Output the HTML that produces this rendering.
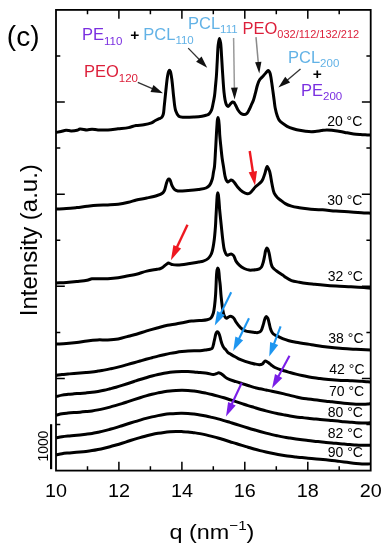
<!DOCTYPE html>
<html><head><meta charset="utf-8"><style>
html,body{margin:0;padding:0;background:#fff;width:386px;height:550px;overflow:hidden}
svg{display:block}
text{font-family:"Liberation Sans",Arial,sans-serif}
</style></head><body>
<svg width="386" height="550" viewBox="0 0 386 550">

<rect x="56.0" y="9.9" width="314.7" height="460.7" fill="none" stroke="#000" stroke-width="1.8"/>
<path d="M87.5,470.6V466.3M87.5,9.9V14.2M118.9,470.6V461.8M118.9,9.9V18.7M150.4,470.6V466.3M150.4,9.9V14.2M181.9,470.6V461.8M181.9,9.9V18.7M213.3,470.6V466.3M213.3,9.9V14.2M244.8,470.6V461.8M244.8,9.9V18.7M276.3,470.6V466.3M276.3,9.9V14.2M307.8,470.6V461.8M307.8,9.9V18.7M339.2,470.6V466.3M339.2,9.9V14.2M56.0,56.0H60.3M370.7,56.0H366.4M56.0,102.0H64.8M370.7,102.0H361.9M56.0,148.1H60.3M370.7,148.1H366.4M56.0,194.2H64.8M370.7,194.2H361.9M56.0,240.2H60.3M370.7,240.2H366.4M56.0,286.3H64.8M370.7,286.3H361.9M56.0,332.4H60.3M370.7,332.4H366.4M56.0,378.5H64.8M370.7,378.5H361.9M56.0,424.5H60.3M370.7,424.5H366.4" stroke="#000" stroke-width="1.5" fill="none"/>
<path d="M56.00,132.40C57.67,132.10 59.34,131.85 61.00,131.50C62.67,131.15 64.32,130.40 66.00,130.30C67.66,130.20 69.26,130.88 71.00,130.90C72.91,130.92 75.37,130.72 77.00,130.30C78.20,129.99 78.76,129.18 80.00,129.00C81.82,128.74 84.86,129.91 87.00,129.90C88.81,129.89 90.26,129.22 92.00,129.20C93.91,129.18 95.74,129.77 98.00,129.90C100.91,130.07 104.67,130.08 108.00,129.90C111.34,129.72 114.63,129.18 118.00,128.80C121.46,128.41 125.32,128.22 128.50,127.60C131.23,127.06 133.45,125.97 136.00,125.50C138.55,125.03 141.23,125.25 143.80,124.80C146.39,124.35 149.41,123.67 151.50,122.80C153.07,122.15 154.08,121.19 155.40,120.50C156.68,119.83 158.18,119.25 159.30,118.70C160.17,118.27 160.97,118.12 161.60,117.50C162.32,116.79 162.78,115.82 163.20,114.50C163.88,112.36 163.92,108.93 164.30,105.60C164.78,101.36 165.27,95.93 165.80,91.10C166.33,86.26 166.90,80.19 167.50,76.60C167.86,74.46 168.12,72.61 168.60,71.50C168.87,70.89 169.20,70.20 169.50,70.20C169.80,70.20 170.12,70.83 170.40,71.50C171.07,73.14 171.51,77.17 172.00,80.70C172.65,85.41 173.04,92.06 173.70,97.30C174.29,102.04 174.53,107.37 175.70,110.80C176.50,113.13 177.32,115.23 178.80,116.30C180.16,117.28 181.96,117.14 184.00,117.30C186.86,117.53 191.21,117.21 194.40,117.00C197.14,116.82 199.88,116.55 202.00,116.20C203.55,115.94 204.78,115.70 206.00,115.30C207.09,114.94 208.13,114.73 209.00,114.00C210.02,113.14 210.85,111.69 211.50,110.20C212.26,108.44 212.53,106.20 213.00,104.00C213.53,101.51 214.09,98.82 214.50,96.00C214.95,92.86 215.18,89.33 215.50,86.00C215.82,82.67 216.13,79.62 216.40,76.00C216.71,71.73 216.92,66.89 217.20,62.00C217.51,56.61 217.68,49.34 218.20,45.00C218.53,42.28 218.96,38.42 219.40,38.40C219.77,38.39 220.28,41.09 220.60,43.00C221.11,46.04 221.21,50.78 221.50,55.00C221.82,59.72 222.10,65.28 222.40,70.00C222.67,74.22 222.92,78.18 223.20,82.00C223.46,85.49 223.67,88.91 224.00,92.00C224.29,94.68 224.56,97.26 225.00,99.50C225.36,101.35 225.66,103.26 226.30,104.50C226.76,105.38 227.40,106.48 228.00,106.50C228.63,106.53 229.30,105.20 230.00,104.50C230.79,103.71 231.74,102.25 232.50,102.00C232.96,101.85 233.40,101.93 233.80,102.20C234.44,102.63 234.90,103.92 235.50,105.00C236.28,106.41 237.03,108.53 238.00,110.00C238.88,111.33 239.89,112.73 241.00,113.50C241.92,114.14 243.01,114.63 244.00,114.60C245.01,114.57 246.15,114.06 247.00,113.30C248.05,112.36 248.75,110.47 249.50,109.00C250.25,107.54 250.83,106.00 251.50,104.50C252.17,103.00 252.90,101.68 253.50,100.00C254.23,97.97 254.77,95.47 255.40,93.10C256.07,90.58 256.75,87.46 257.40,85.30C257.87,83.73 258.28,82.41 258.80,81.30C259.20,80.43 259.61,79.74 260.10,79.10C260.55,78.52 261.09,78.11 261.60,77.60C262.12,77.08 262.61,76.63 263.20,76.00C264.00,75.15 265.17,73.77 265.90,72.90C266.42,72.28 266.75,71.70 267.20,71.30C267.56,70.98 267.95,70.57 268.30,70.60C268.65,70.63 269.01,71.09 269.30,71.50C269.68,72.04 269.93,72.79 270.20,73.70C270.60,75.07 270.89,77.15 271.20,79.00C271.53,81.01 271.79,83.13 272.10,85.30C272.43,87.62 272.77,90.08 273.10,92.50C273.44,94.97 273.76,97.46 274.10,100.00C274.46,102.62 274.67,105.35 275.20,108.00C275.73,110.68 276.54,113.85 277.30,116.00C277.84,117.53 278.20,118.64 279.00,119.80C279.86,121.05 281.12,122.15 282.40,123.20C283.79,124.33 285.37,125.41 287.10,126.30C288.98,127.27 291.09,128.02 293.30,128.70C295.73,129.45 298.49,130.02 301.10,130.50C303.69,130.98 306.44,131.45 308.90,131.60C311.08,131.74 313.04,131.67 315.10,131.50C317.17,131.33 319.30,130.87 321.30,130.60C323.16,130.34 324.79,129.94 326.70,129.90C328.83,129.86 331.24,130.25 333.50,130.50C335.74,130.75 337.97,131.02 340.20,131.40C342.46,131.78 344.74,132.38 347.00,132.80C349.24,133.21 351.46,133.62 353.70,133.90C355.93,134.18 358.16,134.33 360.40,134.50C362.66,134.67 365.31,134.79 367.20,134.90C368.56,134.98 369.53,135.03 370.70,135.10" stroke="#000" stroke-width="3" fill="none" stroke-linejoin="round" stroke-linecap="butt"/>
<path d="M56.00,209.00C59.47,208.87 62.95,208.83 66.40,208.60C69.85,208.37 73.26,207.98 76.70,207.60C80.16,207.22 83.63,206.68 87.10,206.30C90.56,205.92 94.04,205.53 97.50,205.30C100.94,205.07 104.36,205.08 107.80,204.90C111.26,204.72 114.76,204.65 118.20,204.20C121.66,203.75 125.31,202.95 128.50,202.20C131.32,201.53 133.58,200.67 136.40,200.00C139.59,199.25 143.27,198.75 146.70,198.00C150.17,197.25 154.26,196.46 157.10,195.50C159.17,194.80 161.05,194.16 162.30,193.20C163.24,192.48 163.72,191.82 164.30,190.70C165.19,188.98 165.73,185.49 166.40,183.50C166.88,182.05 167.23,180.54 167.80,179.80C168.13,179.36 168.53,179.00 168.90,179.00C169.27,179.00 169.65,179.33 170.00,179.80C170.74,180.79 171.16,183.79 172.00,185.50C172.76,187.06 173.60,188.80 174.70,189.70C175.60,190.43 176.43,190.67 177.80,190.90C180.22,191.30 184.75,190.73 188.20,190.50C191.65,190.27 195.35,189.97 198.50,189.50C201.21,189.10 204.03,188.88 206.00,188.00C207.51,187.32 208.61,186.56 209.60,185.30C210.82,183.75 211.65,181.20 212.30,179.00C212.96,176.77 213.12,174.10 213.50,172.00C213.81,170.28 214.14,169.35 214.40,167.30C214.89,163.50 215.17,156.37 215.50,150.90C215.83,145.43 216.21,137.95 216.40,134.50C216.49,132.90 216.52,132.32 216.60,131.00C216.71,129.27 216.86,126.91 217.00,125.00C217.13,123.26 217.18,121.37 217.40,120.00C217.56,119.02 217.79,117.51 218.00,117.50C218.19,117.49 218.44,118.69 218.60,119.50C218.84,120.69 218.96,122.39 219.10,124.00C219.26,125.85 219.40,128.14 219.50,130.00C219.59,131.61 219.57,132.60 219.70,134.50C219.93,137.80 220.57,143.84 221.00,148.00C221.37,151.58 221.65,154.67 222.10,158.00C222.55,161.34 223.19,164.85 223.70,168.00C224.15,170.82 224.49,173.80 225.00,176.00C225.36,177.58 225.64,178.94 226.20,180.00C226.64,180.83 227.21,181.89 227.80,182.00C228.32,182.10 228.94,181.34 229.50,181.00C230.04,180.67 230.57,180.06 231.10,180.00C231.57,179.95 232.03,180.20 232.50,180.50C233.13,180.91 233.71,181.68 234.40,182.50C235.36,183.66 236.34,185.45 237.60,186.90C239.02,188.55 240.85,190.62 242.60,191.80C244.08,192.79 245.84,193.71 247.20,193.80C248.23,193.87 249.01,193.62 250.00,193.00C251.67,191.95 253.54,188.76 255.50,186.80C257.47,184.82 260.23,183.44 261.80,181.20C263.36,178.97 263.98,175.94 264.90,173.40C265.76,171.02 266.36,166.46 267.20,166.40C267.91,166.35 268.83,169.11 269.50,171.10C270.54,174.20 271.07,179.63 271.90,183.50C272.64,186.94 273.06,190.70 274.20,193.20C275.03,195.02 276.15,196.30 277.30,197.50C278.34,198.59 279.47,199.26 280.70,200.20C282.11,201.28 283.58,202.64 285.30,203.60C287.15,204.64 289.28,205.43 291.50,206.10C293.92,206.83 296.69,207.25 299.30,207.70C301.89,208.15 304.50,208.50 307.10,208.80C309.70,209.10 312.31,209.33 314.90,209.50C317.47,209.67 319.68,209.60 322.60,209.80C326.46,210.06 331.40,210.75 336.00,211.10C340.86,211.46 346.18,211.59 351.00,211.90C355.49,212.19 360.38,212.68 364.00,212.90C366.60,213.06 368.47,213.10 370.70,213.20" stroke="#000" stroke-width="3" fill="none" stroke-linejoin="round" stroke-linecap="butt"/>
<path d="M56.00,283.00C59.47,282.80 62.94,282.65 66.40,282.40C69.84,282.15 73.26,281.85 76.70,281.50C80.16,281.15 84.30,280.89 87.10,280.30C89.06,279.89 90.30,279.05 92.00,278.80C93.76,278.54 95.38,278.80 97.50,278.80C100.40,278.80 104.36,278.96 107.80,278.80C111.26,278.63 114.76,278.32 118.20,277.80C121.66,277.28 125.29,276.33 128.50,275.70C131.31,275.15 133.61,274.88 136.40,274.20C139.63,273.41 143.23,271.92 146.70,271.10C150.13,270.29 154.71,269.75 157.10,269.30C158.37,269.06 159.08,268.99 160.00,268.70C160.88,268.42 161.75,268.09 162.50,267.60C163.25,267.12 163.82,266.37 164.50,265.80C165.16,265.24 165.82,264.67 166.50,264.20C167.15,263.75 167.82,263.05 168.50,263.00C169.15,262.95 169.82,263.54 170.50,263.80C171.19,264.07 171.73,264.40 172.60,264.60C173.93,264.90 175.77,265.04 177.80,265.00C180.67,264.95 184.75,264.30 188.20,263.80C191.65,263.30 195.72,262.50 198.50,262.00C200.40,261.66 201.73,261.65 203.30,261.10C204.97,260.52 206.85,259.73 208.20,258.50C209.60,257.22 210.62,255.60 211.50,253.50C212.72,250.60 213.26,246.41 213.90,242.30C214.67,237.37 215.17,230.38 215.50,225.90C215.73,222.79 215.76,220.72 215.90,218.00C216.05,215.10 216.23,212.00 216.40,209.00C216.57,206.00 216.73,202.56 216.90,200.00C217.03,198.09 217.10,196.32 217.30,195.00C217.44,194.11 217.62,192.81 217.80,192.80C217.96,192.80 218.16,193.79 218.30,194.50C218.53,195.63 218.64,197.39 218.80,199.00C218.98,200.86 219.16,203.14 219.30,205.00C219.42,206.61 219.60,209.50 219.60,209.50C219.60,209.50 219.60,209.50 219.60,209.50C219.60,209.50 220.74,220.58 221.30,225.90C221.83,230.93 222.30,236.19 222.90,240.60C223.39,244.23 223.61,247.87 224.50,250.50C225.15,252.42 226.02,254.79 227.00,255.20C227.61,255.45 228.33,254.81 229.00,254.60C229.69,254.38 230.39,253.80 231.10,253.90C231.93,254.01 232.88,254.73 233.60,255.60C234.62,256.83 235.01,259.46 236.00,261.10C236.93,262.64 237.99,263.99 239.30,265.20C240.69,266.48 242.51,267.67 244.20,268.50C245.78,269.27 247.54,269.87 249.10,270.10C250.46,270.30 251.55,270.15 253.00,270.00C254.88,269.80 257.91,269.52 259.40,268.80C260.37,268.33 260.91,267.85 261.50,267.00C262.32,265.82 262.79,263.76 263.30,262.00C263.84,260.11 264.21,257.93 264.60,256.00C264.97,254.21 265.16,252.25 265.60,250.80C265.94,249.70 266.34,248.06 266.80,248.00C267.16,247.95 267.65,248.84 268.00,249.50C268.51,250.48 268.85,252.05 269.20,253.50C269.60,255.18 269.86,257.21 270.20,259.00C270.53,260.71 270.77,262.52 271.20,264.00C271.56,265.23 271.94,266.42 272.50,267.30C272.95,268.01 273.46,268.41 274.10,269.00C274.90,269.74 275.96,270.55 277.00,271.30C278.14,272.12 279.66,273.02 280.70,273.70C281.47,274.20 281.96,274.47 282.70,275.00C283.68,275.70 284.72,276.75 286.00,277.60C287.56,278.63 289.44,279.85 291.50,280.60C293.82,281.45 296.69,281.73 299.30,282.20C301.89,282.67 304.50,283.07 307.10,283.40C309.70,283.73 312.31,283.93 314.90,284.20C317.48,284.47 319.68,284.73 322.60,285.00C326.45,285.36 331.40,285.80 336.00,286.10C340.86,286.41 346.18,286.54 351.00,286.80C355.49,287.04 360.38,287.33 364.00,287.60C366.60,287.80 368.47,288.00 370.70,288.20" stroke="#000" stroke-width="3" fill="none" stroke-linejoin="round" stroke-linecap="butt"/>
<path d="M56.00,344.00C59.47,343.87 62.95,343.83 66.40,343.60C69.85,343.37 73.27,343.05 76.70,342.60C80.17,342.15 83.63,341.35 87.10,340.90C90.56,340.45 94.04,340.07 97.50,339.90C100.94,339.74 104.36,340.06 107.80,339.90C111.26,339.73 114.77,339.51 118.20,338.90C121.67,338.28 125.29,337.03 128.50,336.20C131.31,335.48 133.61,335.00 136.40,334.20C139.62,333.28 143.25,331.93 146.70,330.90C150.15,329.87 153.63,328.93 157.10,328.00C160.56,327.07 164.19,325.98 167.50,325.30C170.46,324.69 173.23,324.48 176.00,324.00C178.66,323.54 181.21,322.99 183.80,322.50C186.37,322.02 188.92,321.42 191.50,321.10C194.08,320.78 196.70,320.82 199.30,320.60C201.90,320.38 204.98,320.38 207.10,319.80C208.67,319.37 209.99,318.99 211.00,318.00C212.12,316.91 212.72,315.11 213.30,313.30C214.01,311.07 214.24,308.32 214.60,305.50C215.03,302.20 215.34,298.45 215.60,294.70C215.88,290.64 216.02,285.75 216.20,282.00C216.34,279.03 216.41,276.24 216.60,274.00C216.74,272.37 216.83,270.89 217.10,269.80C217.28,269.06 217.56,268.01 217.80,268.00C218.03,267.99 218.32,268.88 218.50,269.50C218.77,270.41 218.85,271.67 219.00,273.00C219.20,274.73 219.30,277.00 219.50,279.00C219.70,281.00 219.97,282.69 220.20,285.00C220.51,288.15 220.72,292.37 221.10,296.20C221.51,300.26 221.98,305.16 222.60,308.70C223.07,311.35 223.34,313.92 224.20,315.60C224.80,316.77 225.71,318.08 226.50,318.20C227.15,318.30 227.83,317.34 228.50,317.00C229.13,316.68 229.75,316.21 230.40,316.20C231.08,316.19 231.87,316.59 232.50,317.00C233.17,317.44 233.76,318.07 234.30,318.80C234.95,319.68 235.22,320.82 236.00,322.00C237.12,323.70 239.01,326.28 240.70,327.80C242.15,329.10 243.58,330.12 245.30,330.80C247.15,331.53 249.42,331.60 251.50,331.90C253.59,332.20 256.10,332.89 257.80,332.60C259.05,332.39 260.07,332.02 260.90,331.10C262.05,329.83 262.52,327.00 263.20,324.90C263.88,322.80 264.32,320.00 265.00,318.50C265.41,317.60 265.83,316.53 266.30,316.50C266.76,316.47 267.38,317.48 267.80,318.30C268.44,319.54 268.75,321.76 269.20,323.50C269.65,325.26 269.98,327.23 270.50,328.80C270.94,330.11 271.41,331.34 272.00,332.30C272.48,333.07 272.93,333.66 273.60,334.20C274.36,334.81 275.27,335.14 276.40,335.70C278.05,336.53 280.50,337.76 282.60,338.60C284.67,339.43 286.72,340.09 288.90,340.70C291.18,341.34 293.17,341.76 296.00,342.30C300.16,343.09 306.32,343.92 311.50,344.70C316.69,345.48 321.90,346.37 327.10,347.00C332.27,347.63 337.62,348.11 342.60,348.50C347.23,348.86 351.43,349.05 356.00,349.30C360.79,349.56 365.80,349.77 370.70,350.00" stroke="#000" stroke-width="3" fill="none" stroke-linejoin="round" stroke-linecap="butt"/>
<path d="M56.00,375.40C58.00,375.10 60.00,374.73 62.00,374.50C64.00,374.27 66.00,374.17 68.00,374.00C70.00,373.83 72.00,373.65 74.00,373.50C76.00,373.35 78.00,373.25 80.00,373.10C82.00,372.95 84.00,372.78 86.00,372.60C88.00,372.42 90.00,372.25 92.00,372.00C94.00,371.75 96.00,371.42 98.00,371.10C100.00,370.78 102.00,370.47 104.00,370.10C106.00,369.73 108.00,369.32 110.00,368.90C112.00,368.48 114.00,368.07 116.00,367.60C118.00,367.13 120.00,366.63 122.00,366.10C124.00,365.57 126.00,364.97 128.00,364.40C130.00,363.83 132.00,363.27 134.00,362.70C136.00,362.13 138.00,361.57 140.00,361.00C142.00,360.43 144.00,359.85 146.00,359.30C148.00,358.75 150.00,358.23 152.00,357.70C154.00,357.17 156.00,356.60 158.00,356.10C160.00,355.60 162.00,355.15 164.00,354.70C166.00,354.25 168.00,353.78 170.00,353.40C172.00,353.02 174.00,352.70 176.00,352.40C178.00,352.10 180.00,351.83 182.00,351.60C184.00,351.37 186.00,351.15 188.00,351.00C190.00,350.85 192.00,350.75 194.00,350.70C196.00,350.65 198.00,350.83 200.00,350.70C202.00,350.57 204.20,350.18 206.00,349.90C207.47,349.67 208.88,349.55 210.00,349.20C210.86,348.93 211.66,348.78 212.20,348.20C212.82,347.53 212.99,346.26 213.30,345.20C213.64,344.04 213.82,342.76 214.10,341.50C214.39,340.19 214.73,338.72 215.00,337.50C215.22,336.48 215.34,335.58 215.60,334.70C215.84,333.89 216.11,332.89 216.50,332.40C216.76,332.08 217.10,331.80 217.40,331.80C217.70,331.80 218.02,332.08 218.30,332.40C218.72,332.89 219.08,333.85 219.40,334.70C219.77,335.69 220.00,336.88 220.30,338.00C220.60,339.15 220.87,340.38 221.20,341.50C221.51,342.54 221.85,343.61 222.20,344.50C222.49,345.24 222.73,345.85 223.10,346.50C223.49,347.19 224.01,347.91 224.50,348.50C224.94,349.03 225.40,349.34 225.90,349.90C226.55,350.64 227.24,351.93 228.00,352.60C228.63,353.16 229.27,353.36 230.00,353.80C230.90,354.34 231.99,355.03 233.00,355.60C233.99,356.16 234.93,356.62 236.00,357.20C237.24,357.87 238.28,358.65 240.00,359.40C242.80,360.62 248.01,362.29 251.50,363.20C254.33,363.94 257.29,364.73 259.30,364.70C260.57,364.68 261.60,364.50 262.40,364.00C263.12,363.55 263.44,362.54 264.00,362.00C264.48,361.54 264.99,360.94 265.50,360.90C265.99,360.87 266.50,361.40 267.00,361.70C267.53,362.02 268.00,362.35 268.60,362.80C269.44,363.43 270.48,364.43 271.50,365.20C272.57,366.00 273.43,366.75 274.90,367.50C277.15,368.65 281.27,369.92 284.00,370.80C286.19,371.51 288.00,371.95 290.00,372.50C292.00,373.05 294.00,373.60 296.00,374.10C298.00,374.60 300.00,375.07 302.00,375.50C304.00,375.93 306.00,376.32 308.00,376.70C310.00,377.08 312.00,377.48 314.00,377.80C316.00,378.12 318.00,378.35 320.00,378.60C322.00,378.85 324.00,379.10 326.00,379.30C328.00,379.50 330.00,379.65 332.00,379.80C334.00,379.95 336.00,380.08 338.00,380.20C340.00,380.32 342.00,380.42 344.00,380.50C346.00,380.58 348.00,380.63 350.00,380.70C352.00,380.77 354.00,380.80 356.00,380.90C358.00,381.00 360.00,381.17 362.00,381.30C364.00,381.43 366.40,381.56 368.00,381.70C369.08,381.80 369.80,381.90 370.70,382.00" stroke="#000" stroke-width="3" fill="none" stroke-linejoin="round" stroke-linecap="butt"/>
<path d="M56.00,396.70C58.00,396.17 59.99,395.50 62.00,395.10C63.99,394.70 66.00,394.52 68.00,394.30C70.00,394.08 72.00,393.95 74.00,393.80C76.00,393.65 78.00,393.55 80.00,393.40C82.00,393.25 84.00,393.08 86.00,392.90C88.00,392.72 90.00,392.55 92.00,392.30C94.00,392.05 96.00,391.73 98.00,391.40C100.00,391.07 102.01,390.73 104.00,390.30C106.01,389.87 108.00,389.32 110.00,388.80C112.00,388.28 114.00,387.77 116.00,387.20C118.00,386.63 120.00,386.02 122.00,385.40C124.00,384.78 126.00,384.15 128.00,383.50C130.00,382.85 132.00,382.17 134.00,381.50C136.00,380.83 138.00,380.13 140.00,379.50C142.00,378.87 144.00,378.28 146.00,377.70C148.00,377.12 150.00,376.53 152.00,376.00C154.00,375.47 155.99,374.95 158.00,374.50C159.99,374.05 162.00,373.67 164.00,373.30C166.00,372.93 168.00,372.57 170.00,372.30C172.00,372.03 174.00,371.85 176.00,371.70C178.00,371.55 180.00,371.43 182.00,371.40C184.00,371.37 186.00,371.42 188.00,371.50C190.00,371.58 192.00,371.72 194.00,371.90C196.00,372.08 197.91,372.39 200.00,372.60C202.27,372.83 204.83,372.85 207.10,373.20C209.25,373.53 211.58,374.64 213.30,374.60C214.55,374.57 215.54,374.03 216.50,373.70C217.31,373.42 218.00,372.82 218.70,372.80C219.33,372.78 219.90,373.10 220.50,373.40C221.20,373.74 221.77,374.20 222.60,374.80C223.87,375.72 225.39,377.43 227.30,378.50C229.67,379.83 233.36,380.80 236.00,381.70C238.18,382.44 240.00,382.97 242.00,383.60C244.00,384.23 246.00,384.87 248.00,385.50C250.00,386.13 251.99,386.85 254.00,387.40C255.99,387.95 258.00,388.37 260.00,388.80C262.00,389.23 264.00,389.60 266.00,390.00C268.00,390.40 270.00,390.78 272.00,391.20C274.00,391.62 276.00,392.05 278.00,392.50C280.00,392.95 282.00,393.42 284.00,393.90C286.00,394.38 288.00,394.90 290.00,395.40C292.00,395.90 294.00,396.43 296.00,396.90C298.00,397.37 299.99,397.85 302.00,398.20C303.99,398.55 306.00,398.75 308.00,399.00C310.00,399.25 312.00,399.45 314.00,399.70C316.00,399.95 318.00,400.25 320.00,400.50C322.00,400.75 324.00,400.98 326.00,401.20C328.00,401.42 330.00,401.58 332.00,401.80C334.00,402.02 336.00,402.27 338.00,402.50C340.00,402.73 342.00,402.98 344.00,403.20C346.00,403.42 348.00,403.63 350.00,403.80C352.00,403.97 354.00,404.12 356.00,404.20C358.00,404.28 360.00,404.33 362.00,404.30C364.00,404.27 366.40,404.16 368.00,404.00C369.08,403.89 369.80,403.73 370.70,403.60" stroke="#000" stroke-width="3" fill="none" stroke-linejoin="round" stroke-linecap="butt"/>
<path d="M56.00,415.20C58.00,414.73 59.99,414.15 62.00,413.80C63.99,413.45 66.00,413.30 68.00,413.10C70.00,412.90 72.00,412.75 74.00,412.60C76.00,412.45 78.00,412.37 80.00,412.20C82.00,412.03 84.00,411.82 86.00,411.60C88.00,411.38 90.00,411.18 92.00,410.90C94.00,410.62 96.00,410.28 98.00,409.90C100.00,409.52 102.00,409.07 104.00,408.60C106.00,408.13 108.00,407.63 110.00,407.10C112.00,406.57 114.00,405.98 116.00,405.40C118.00,404.82 120.00,404.23 122.00,403.60C124.00,402.97 126.00,402.27 128.00,401.60C130.00,400.93 132.00,400.25 134.00,399.60C136.00,398.95 138.00,398.32 140.00,397.70C142.00,397.08 144.00,396.47 146.00,395.90C148.00,395.33 150.00,394.80 152.00,394.30C154.00,393.80 156.00,393.33 158.00,392.90C160.00,392.47 161.99,392.03 164.00,391.70C165.99,391.37 168.00,391.10 170.00,390.90C172.00,390.70 174.00,390.60 176.00,390.50C178.00,390.40 180.00,390.30 182.00,390.30C184.00,390.30 186.00,390.37 188.00,390.50C190.00,390.63 192.00,390.87 194.00,391.10C196.00,391.33 198.01,391.57 200.00,391.90C202.01,392.23 204.00,392.67 206.00,393.10C208.00,393.53 210.00,394.00 212.00,394.50C214.00,395.00 216.00,395.55 218.00,396.10C220.00,396.65 222.00,397.20 224.00,397.80C226.00,398.40 228.00,399.07 230.00,399.70C232.00,400.33 234.00,400.95 236.00,401.60C238.00,402.25 240.00,402.93 242.00,403.60C244.00,404.27 246.00,404.97 248.00,405.60C250.00,406.23 252.00,406.80 254.00,407.40C256.00,408.00 258.00,408.62 260.00,409.20C262.00,409.78 264.00,410.37 266.00,410.90C268.00,411.43 270.00,411.93 272.00,412.40C274.00,412.87 276.00,413.28 278.00,413.70C280.00,414.12 282.00,414.52 284.00,414.90C286.00,415.28 288.00,415.67 290.00,416.00C292.00,416.33 294.00,416.63 296.00,416.90C298.00,417.17 300.00,417.37 302.00,417.60C304.00,417.83 306.00,418.08 308.00,418.30C310.00,418.52 312.00,418.70 314.00,418.90C316.00,419.10 318.00,419.32 320.00,419.50C322.00,419.68 324.00,419.82 326.00,420.00C328.00,420.18 330.00,420.42 332.00,420.60C334.00,420.78 336.00,420.92 338.00,421.10C340.00,421.28 342.00,421.52 344.00,421.70C346.00,421.88 348.00,422.03 350.00,422.20C352.00,422.37 354.00,422.58 356.00,422.70C358.00,422.82 360.00,422.87 362.00,422.90C364.00,422.93 366.39,422.96 368.00,422.90C369.08,422.86 369.80,422.77 370.70,422.70" stroke="#000" stroke-width="3" fill="none" stroke-linejoin="round" stroke-linecap="butt"/>
<path d="M56.00,437.80C58.00,437.43 60.00,437.00 62.00,436.70C64.00,436.40 66.00,436.20 68.00,436.00C70.00,435.80 72.00,435.68 74.00,435.50C76.00,435.32 78.00,435.12 80.00,434.90C82.00,434.68 84.00,434.45 86.00,434.20C88.00,433.95 90.01,433.73 92.00,433.40C94.01,433.07 96.00,432.62 98.00,432.20C100.00,431.78 102.01,431.38 104.00,430.90C106.01,430.42 108.00,429.85 110.00,429.30C112.00,428.75 114.00,428.20 116.00,427.60C118.00,427.00 120.00,426.33 122.00,425.70C124.00,425.07 126.00,424.43 128.00,423.80C130.00,423.17 132.00,422.52 134.00,421.90C136.00,421.28 138.00,420.68 140.00,420.10C142.00,419.52 144.00,418.93 146.00,418.40C148.00,417.87 150.00,417.37 152.00,416.90C154.00,416.43 156.00,416.00 158.00,415.60C160.00,415.20 162.00,414.80 164.00,414.50C166.00,414.20 168.00,413.98 170.00,413.80C172.00,413.62 174.00,413.48 176.00,413.40C178.00,413.32 180.00,413.28 182.00,413.30C184.00,413.32 186.00,413.37 188.00,413.50C190.00,413.63 192.00,413.87 194.00,414.10C196.00,414.33 198.00,414.58 200.00,414.90C202.00,415.22 204.00,415.58 206.00,416.00C208.01,416.42 210.00,416.92 212.00,417.40C214.00,417.88 216.00,418.37 218.00,418.90C220.00,419.43 222.00,420.02 224.00,420.60C226.00,421.18 228.00,421.80 230.00,422.40C232.00,423.00 234.00,423.58 236.00,424.20C238.00,424.82 240.00,425.47 242.00,426.10C244.00,426.73 246.00,427.38 248.00,428.00C250.00,428.62 252.00,429.22 254.00,429.80C256.00,430.38 258.00,430.95 260.00,431.50C262.00,432.05 264.00,432.58 266.00,433.10C268.00,433.62 270.00,434.13 272.00,434.60C274.00,435.07 276.00,435.48 278.00,435.90C280.00,436.32 282.00,436.73 284.00,437.10C286.00,437.47 288.00,437.78 290.00,438.10C292.00,438.42 294.00,438.72 296.00,439.00C298.00,439.28 300.00,439.55 302.00,439.80C304.00,440.05 306.00,440.27 308.00,440.50C310.00,440.73 312.00,440.98 314.00,441.20C316.00,441.42 318.00,441.60 320.00,441.80C322.00,442.00 324.00,442.22 326.00,442.40C328.00,442.58 330.00,442.72 332.00,442.90C334.00,443.08 336.00,443.30 338.00,443.50C340.00,443.70 342.00,443.92 344.00,444.10C346.00,444.28 348.00,444.43 350.00,444.60C352.00,444.77 354.00,444.98 356.00,445.10C358.00,445.22 360.00,445.28 362.00,445.30C364.00,445.32 366.39,445.24 368.00,445.20C369.08,445.17 369.80,445.13 370.70,445.10" stroke="#000" stroke-width="3" fill="none" stroke-linejoin="round" stroke-linecap="butt"/>
<path d="M56.00,455.00C58.00,454.57 59.99,454.03 62.00,453.70C63.99,453.37 66.00,453.20 68.00,453.00C70.00,452.80 72.00,452.67 74.00,452.50C76.00,452.33 78.00,452.18 80.00,452.00C82.00,451.82 84.00,451.63 86.00,451.40C88.00,451.17 90.00,450.92 92.00,450.60C94.00,450.28 96.00,449.90 98.00,449.50C100.00,449.10 102.00,448.67 104.00,448.20C106.00,447.73 108.00,447.23 110.00,446.70C112.00,446.17 114.00,445.58 116.00,445.00C118.00,444.42 120.00,443.82 122.00,443.20C124.00,442.58 126.00,441.93 128.00,441.30C130.00,440.67 132.00,440.02 134.00,439.40C136.00,438.78 138.00,438.17 140.00,437.60C142.00,437.03 144.00,436.52 146.00,436.00C148.00,435.48 149.99,434.95 152.00,434.50C153.99,434.05 156.00,433.65 158.00,433.30C160.00,432.95 162.00,432.65 164.00,432.40C166.00,432.15 168.00,431.95 170.00,431.80C172.00,431.65 174.00,431.53 176.00,431.50C178.00,431.47 180.00,431.53 182.00,431.60C184.00,431.67 186.00,431.72 188.00,431.90C190.00,432.08 192.00,432.42 194.00,432.70C196.00,432.98 198.01,433.23 200.00,433.60C202.01,433.97 204.00,434.43 206.00,434.90C208.00,435.37 210.00,435.88 212.00,436.40C214.00,436.92 216.00,437.43 218.00,438.00C220.00,438.57 222.00,439.18 224.00,439.80C226.00,440.42 228.00,441.08 230.00,441.70C232.00,442.32 234.00,442.88 236.00,443.50C238.00,444.12 240.00,444.78 242.00,445.40C244.00,446.02 246.00,446.60 248.00,447.20C250.00,447.80 252.00,448.43 254.00,449.00C256.00,449.57 258.00,450.10 260.00,450.60C262.00,451.10 264.00,451.55 266.00,452.00C268.00,452.45 270.00,452.90 272.00,453.30C274.00,453.70 276.00,454.05 278.00,454.40C280.00,454.75 282.00,455.08 284.00,455.40C286.00,455.72 288.00,456.03 290.00,456.30C292.00,456.57 294.00,456.78 296.00,457.00C298.00,457.22 300.00,457.40 302.00,457.60C304.00,457.80 306.00,458.02 308.00,458.20C310.00,458.38 312.00,458.53 314.00,458.70C316.00,458.87 318.00,459.02 320.00,459.20C322.00,459.38 324.00,459.58 326.00,459.80C328.00,460.02 330.00,460.27 332.00,460.50C334.00,460.73 336.00,460.97 338.00,461.20C340.00,461.43 342.00,461.65 344.00,461.90C346.00,462.15 348.00,462.45 350.00,462.70C352.00,462.95 354.00,463.20 356.00,463.40C358.00,463.60 360.00,463.80 362.00,463.90C364.00,464.00 366.39,464.05 368.00,464.00C369.08,463.97 369.80,463.87 370.70,463.80" stroke="#000" stroke-width="3" fill="none" stroke-linejoin="round" stroke-linecap="butt"/>
<path d="M137.8,82.4L152.9,88.9" stroke="#333" stroke-width="1.3"/><path d="M163.0,93.2L150.5,92.0L153.5,85.0Z" fill="#111"/>
<path d="M188.2,48.1L199.5,59.8" stroke="#333" stroke-width="1.3"/><path d="M207.2,67.7L196.1,61.7L201.6,56.4Z" fill="#111"/>
<path d="M233.6,38.0L234.4,88.6" stroke="#9a9a9a" stroke-width="1.5"/><path d="M234.6,99.6L231.0,87.7L237.8,87.5Z" fill="#111"/>
<path d="M256.0,37.1L258.3,62.9" stroke="#8a8a8a" stroke-width="1.5"/><path d="M259.3,73.4L255.1,62.2L261.4,61.7Z" fill="#111"/>
<path d="M300.5,69.0L286.9,80.4" stroke="#333" stroke-width="1.3"/><path d="M278.4,87.4L285.2,76.8L290.1,82.6Z" fill="#111"/>
<path d="M249.7,151.0L253.0,172.7" stroke="#ee1820" stroke-width="2.4"/><path d="M255.0,185.5L248.7,172.3L257.0,171.0Z" fill="#ee1820"/>
<path d="M187.5,224.8L176.8,247.6" stroke="#ee1820" stroke-width="2.4"/><path d="M170.9,260.3L173.4,244.9L181.1,248.5Z" fill="#ee1820"/>
<path d="M231.2,292.2L220.5,313.9" stroke="#1e96f0" stroke-width="2.1"/><path d="M214.8,325.6L217.1,311.1L224.8,314.9Z" fill="#1e96f0"/>
<path d="M249.0,318.2L238.8,339.3" stroke="#1e96f0" stroke-width="2.1"/><path d="M233.2,351.0L235.4,336.5L243.1,340.3Z" fill="#1e96f0"/>
<path d="M280.6,326.4L273.8,344.3" stroke="#1e96f0" stroke-width="2.1"/><path d="M269.2,356.5L270.1,341.9L278.2,344.9Z" fill="#1e96f0"/>
<path d="M241.8,382.7L231.5,404.7" stroke="#7a1ee8" stroke-width="2.1"/><path d="M226.0,416.5L228.1,402.0L235.7,405.6Z" fill="#7a1ee8"/>
<path d="M289.5,355.8L278.2,376.8" stroke="#7a1ee8" stroke-width="2.1"/><path d="M272.0,388.2L275.0,373.9L282.3,377.9Z" fill="#7a1ee8"/>
<path d="M51.1,424.2V469.2" stroke="#000" stroke-width="2.2"/>
<text x="6.8" y="44.8" font-size="28.0" fill="#000" >(<tspan dy="1.5">c</tspan><tspan dy="-1.5">)</tspan></text>
<text transform="translate(36.7,316.2) rotate(-90)" font-size="24" fill="#000">Intensity (a.u.)</text>
<text transform="translate(47.7,461.4) rotate(-90)" font-size="13.8" fill="#000">1000</text>
<text transform="translate(169.5,538.6) scale(1.17,1)" font-size="20" fill="#000">q (nm<tspan font-size="13" dy="-9">&#8722;1</tspan><tspan dy="9">)</tspan></text>
<text transform="translate(56.0,496.6) scale(1.1,1)" font-size="18" fill="#000" text-anchor="middle">10</text>
<text transform="translate(118.9,496.6) scale(1.1,1)" font-size="18" fill="#000" text-anchor="middle">12</text>
<text transform="translate(181.9,496.6) scale(1.1,1)" font-size="18" fill="#000" text-anchor="middle">14</text>
<text transform="translate(244.8,496.6) scale(1.1,1)" font-size="18" fill="#000" text-anchor="middle">16</text>
<text transform="translate(307.8,496.6) scale(1.1,1)" font-size="18" fill="#000" text-anchor="middle">18</text>
<text transform="translate(370.7,496.6) scale(1.1,1)" font-size="18" fill="#000" text-anchor="middle">20</text>
<text x="362.3" y="125.6" font-size="14.0" fill="#000" text-anchor="end">20 &#176;C</text>
<text x="362.4" y="205.1" font-size="14.0" fill="#000" text-anchor="end">30 &#176;C</text>
<text x="362.9" y="280.6" font-size="14.0" fill="#000" text-anchor="end">32 &#176;C</text>
<text x="363.5" y="342.6" font-size="14.0" fill="#000" text-anchor="end">38 &#176;C</text>
<text x="364.5" y="374.1" font-size="14.0" fill="#000" text-anchor="end">42 &#176;C</text>
<text x="364.1" y="395.6" font-size="14.0" fill="#000" text-anchor="end">70 &#176;C</text>
<text x="362.9" y="416.6" font-size="14.0" fill="#000" text-anchor="end">80 &#176;C</text>
<text x="362.9" y="437.6" font-size="14.0" fill="#000" text-anchor="end">82 &#176;C</text>
<text x="362.9" y="456.6" font-size="14.0" fill="#000" text-anchor="end">90 &#176;C</text>
<text x="82.0" y="40.1" font-size="16.5" fill="#7a2fe0">PE<tspan font-size="11.5" dy="4.4">110</tspan></text>
<text x="130.2" y="39.9" font-size="15.5" fill="#000" font-weight="bold">+</text>
<text x="143.3" y="39.8" font-size="16.5" fill="#62b2e6">PCL<tspan font-size="11.5" dy="4.4">110</tspan></text>
<text x="188.0" y="28.7" font-size="16.5" fill="#62b2e6">PCL<tspan font-size="11.5" dy="4.4">111</tspan></text>
<text x="242.5" y="34.0" font-size="16.5" fill="#dc1f3a">PEO<tspan font-size="11.0" dy="4.4">032/112/132/212</tspan></text>
<text x="83.9" y="77.2" font-size="16.5" fill="#dc1f3a">PEO<tspan font-size="11.5" dy="4.4">120</tspan></text>
<text x="288.0" y="62.8" font-size="16.5" fill="#62b2e6">PCL<tspan font-size="11.5" dy="4.4">200</tspan></text>
<text x="312.7" y="79.4" font-size="15.5" fill="#000" font-weight="bold">+</text>
<text x="301.0" y="95.7" font-size="16.5" fill="#7a2fe0">PE<tspan font-size="11.5" dy="4.4">200</tspan></text>
</svg></body></html>
